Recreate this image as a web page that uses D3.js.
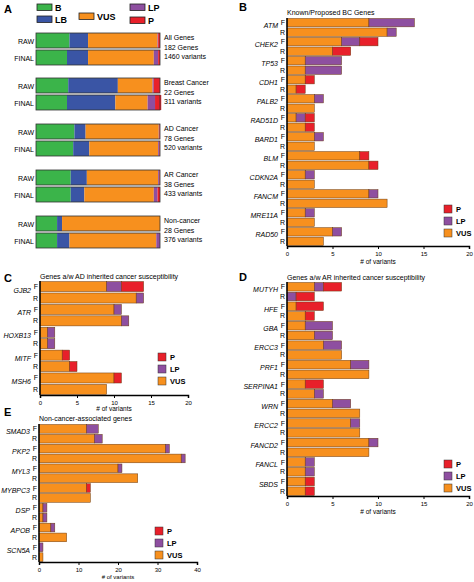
<!DOCTYPE html><html><head><meta charset="utf-8"><script src="https://cdn.jsdelivr.net/npm/d3@7"></script>
<style>body{margin:0;background:#fff}svg{font-family:"Liberation Sans",Arial,sans-serif;font-weight:bold}</style></head><body><svg width="474" height="582"></svg>
<script>
const COL={B:"#3bb44a",LB:"#3a55a5",VUS:"#f7901e",LP:"#8e4fa0",P:"#e8202a"};
const aGroups=[["All Genes","182 Genes","1460 variants"],["Breast Cancer","22 Genes","311 variants"],["AD Cancer","78 Genes","520 variants"],["AR Cancer","38 Genes","433 variants"],["Non-cancer","28 Genes","376 variants"]];
const aRaw=[[0.27,0.15,0.56,0.005,0.015],[0.26,0.40,0.28,0.01,0.05],[0.31,0.09,0.59,0.005,0.005],[0.28,0.13,0.575,0.01,0.005],[0.17,0.04,0.79,0,0]];
const aFinal=[[0.25,0.17,0.53,0.035,0.015],[0.25,0.39,0.26,0.06,0.05],[0.30,0.13,0.555,0.01,0.005],[0.28,0.11,0.56,0.03,0.02],[0.17,0.10,0.70,0.03,0]];
const aKeys=["B","LB","VUS","LP","P"];
const bGenes=["ATM","CHEK2","TP53","CDH1","PALB2","RAD51D","BARD1","BLM","CDKN2A","FANCM","MRE11A","RAD50"];
const bVUS=[[9,11],[6,5],[2,2],[2,1],[3,3],[1,2],[3,3],[8,9],[2,3],[9,11],[2,3],[5,4]];
const bLP=[[5,1],[2,0],[4,4],[0,0],[1,0],[1,0],[1,0],[0,0],[1,0],[1,0],[1,0],[1,0]];
const bP=[[0,0],[2,2],[0,0],[1,1],[0,0],[1,1],[0,0],[1,1],[0,0],[0,0],[0,0],[0,0]];
const cGenes=["GJB2","ATR","HOXB13","MITF","MSH6"];
const cVUS=[[9,13],[10,11],[1,1],[3,4],[10,9]];
const cLP=[[2,1],[1,1],[1,1],[0,0],[0,0]];
const cP=[[3,0],[0,0],[0,0],[1,1],[1,0]];
const dGenes=["MUTYH","HFE","GBA","ERCC3","PRF1","SERPINA1","WRN","ERCC2","FANCD2","FANCL","SBDS"];
const dVUS=[[3,0],[1,2],[2,3],[4,6],[7,9],[2,3],[5,8],[7,8],[9,9],[2,2],[2,2]];
const dLP=[[1,1],[0,0],[3,2],[2,0],[2,0],[0,1],[2,0],[1,0],[1,0],[1,1],[0,0]];
const dP=[[2,2],[3,1],[0,0],[0,0],[0,0],[2,0],[0,0],[0,0],[0,0],[0,0],[1,1]];
const eGenes=["SMAD3","PKP2","MYL3","MYBPC3","DSP","APOB","SCN5A"];
const eVUS=[[12,14],[32,36],[20,25],[12,13],[1,1],[3,7],[0,1]];
const eLP=[[3,2],[1,1],[1,0],[0,0],[1,1],[1,0],[1,0]];
const eP=[[0,0],[0,0],[0,0],[1,0],[0,0],[0,0],[0,0]];
const xTicks20=[0,5,10,15,20], xTicks40=[0,10,20,30,40];

const svg=d3.select("svg");
const lbl=(t,x,y,s=11)=>svg.append("text").attr("x",x).attr("y",y).attr("font-size",s).text(t);
lbl("A",4,13);lbl("B",239,11);lbl("C",4,282);lbl("D",239,281);lbl("E",4,416);

const leg=[["B",37,4,"B"],["LB",37,16,"LB"],["VUS",79,13,"VUS"],["LP",130,4,"LP"],["P",130,17,"P"]];
leg.forEach(([k,x,y,t])=>{svg.append("rect").attr("x",x).attr("y",y).attr("width",15).attr("height",6.5).attr("fill",COL[k]).attr("stroke","#222").attr("stroke-width",0.8);
 svg.append("text").attr("x",x+18).attr("y",y+7).attr("font-size",9).text(t);});
const ax=d3.scaleLinear().domain([0,1]).range([36,160]);
const aY=[33,78,124,170,216];
aGroups.forEach((g,i)=>{
 [[aRaw[i],"RAW",aY[i]],[aFinal[i],"FINAL",aY[i]+17]].forEach(([v,l,y])=>{
  let c=0;v.forEach((f,j)=>{if(f>0)svg.append("rect").attr("x",ax(c)).attr("y",y).attr("width",ax(c+f)-ax(c)).attr("height",15).attr("fill",COL[aKeys[j]]);c+=f;});
  svg.append("rect").attr("x",ax(0)).attr("y",y).attr("width",ax(1)-ax(0)).attr("height",15).attr("fill","none").attr("stroke","#333").attr("stroke-width",0.8);
  svg.append("text").attr("x",34).attr("y",y+11).attr("text-anchor","end").attr("font-size",7).attr("font-weight","normal").text(l);
 });
 g.forEach((t,k)=>svg.append("text").attr("x",164).attr("y",aY[i]+7+k*9.5).attr("font-size",7).attr("font-weight","normal").text(t));
});

function panel(o){
 const rows=[];o.genes.forEach((g,i)=>[0,1].forEach(j=>rows.push({g,i,j,v:o.vus[i][j],lp:o.lp[i][j],p:o.p[i][j]})));
 const y=d3.scaleBand().domain(d3.range(rows.length)).range([o.y0,o.y1]).paddingInner(0.12).paddingOuter(0.05);
 const x=d3.scaleLinear().domain([0,o.max]).range([o.x0,o.x1]);
 svg.append("text").attr("x",o.x0).attr("y",o.ty).attr("font-size",7).attr("font-weight","normal").text(o.title);
 const G=svg.append("g");
 rows.forEach((r,k)=>{let c=0;[["VUS",r.v],["LP",r.lp],["P",r.p]].forEach(([key,n])=>{if(n>0){G.append("rect").attr("x",x(c)).attr("y",y(k)).attr("width",x(c+n)-x(c)).attr("height",y.bandwidth()).attr("fill",COL[key]).attr("stroke","#6b3a10").attr("stroke-width",0.5);c+=n;}});
  G.append("text").attr("x",o.x0-2).attr("y",y(k)+y.bandwidth()/2+2.5).attr("text-anchor","end").attr("font-size",7).attr("font-weight","normal").text(r.j?"R":"F");
  if(!r.j)G.append("text").attr("x",o.x0-9).attr("y",y(k)+y.bandwidth()+1).attr("text-anchor","end").attr("font-size",7).attr("font-style","italic").attr("font-weight","normal").text(r.g);
 });
 svg.append("line").attr("x1",o.x0).attr("x2",o.x0).attr("y1",o.y0).attr("y2",o.y1).attr("stroke","#000").attr("stroke-width",1.5);
 const a=svg.append("g").attr("transform",`translate(0,${o.y1})`).call(d3.axisBottom(x).tickValues(o.ticks).tickSize(3).tickFormat(d3.format("d")));
 a.select(".domain").attr("stroke-width",1.5);a.selectAll("text").attr("font-size",6).attr("font-weight","normal").attr("font-family","Liberation Sans");
 svg.append("text").attr("x",(o.x0+o.x1)/2).attr("y",o.y1+o.tt).attr("text-anchor","middle").attr("font-size",o.ts||6.5).attr("font-weight","normal").text("# of variants");
 [["P","P"],["LP","LP"],["VUS","VUS"]].forEach(([k,t],i)=>{svg.append("rect").attr("x",o.lx).attr("y",o.ly+i*12).attr("width",8).attr("height",8).attr("fill",COL[k]).attr("stroke","#333").attr("stroke-width",0.5);
  svg.append("text").attr("x",o.lx+12).attr("y",o.ly+i*12+7).attr("font-size",7.5).text(t);});
}
panel({genes:bGenes,vus:bVUS,lp:bLP,p:bP,max:20,ticks:xTicks20,x0:287,x1:469,y0:18,y1:246,ty:15,tt:18,title:"Known/Proposed BC Genes",lx:444,ly:205});
panel({genes:cGenes,vus:cVUS,lp:cLP,p:cP,max:20,ticks:xTicks20,x0:40,x1:188,y0:281,y1:395,ty:279,tt:16,title:"Genes a/w AD inherited cancer susceptibility",lx:158,ly:353});
panel({genes:dGenes,vus:dVUS,lp:dLP,p:dP,max:20,ticks:xTicks20,x0:287,x1:469,y0:282,y1:496,ty:280,tt:18,title:"Genes a/w AR inherited cancer susceptibility",lx:444,ly:460});
panel({genes:eGenes,vus:eVUS,lp:eLP,p:eP,max:40,ticks:xTicks40,x0:39,x1:197,y0:424,y1:562,ty:421,tt:17,ts:6,title:"Non-cancer-associated genes",lx:155,ly:527});
</script></body></html>
